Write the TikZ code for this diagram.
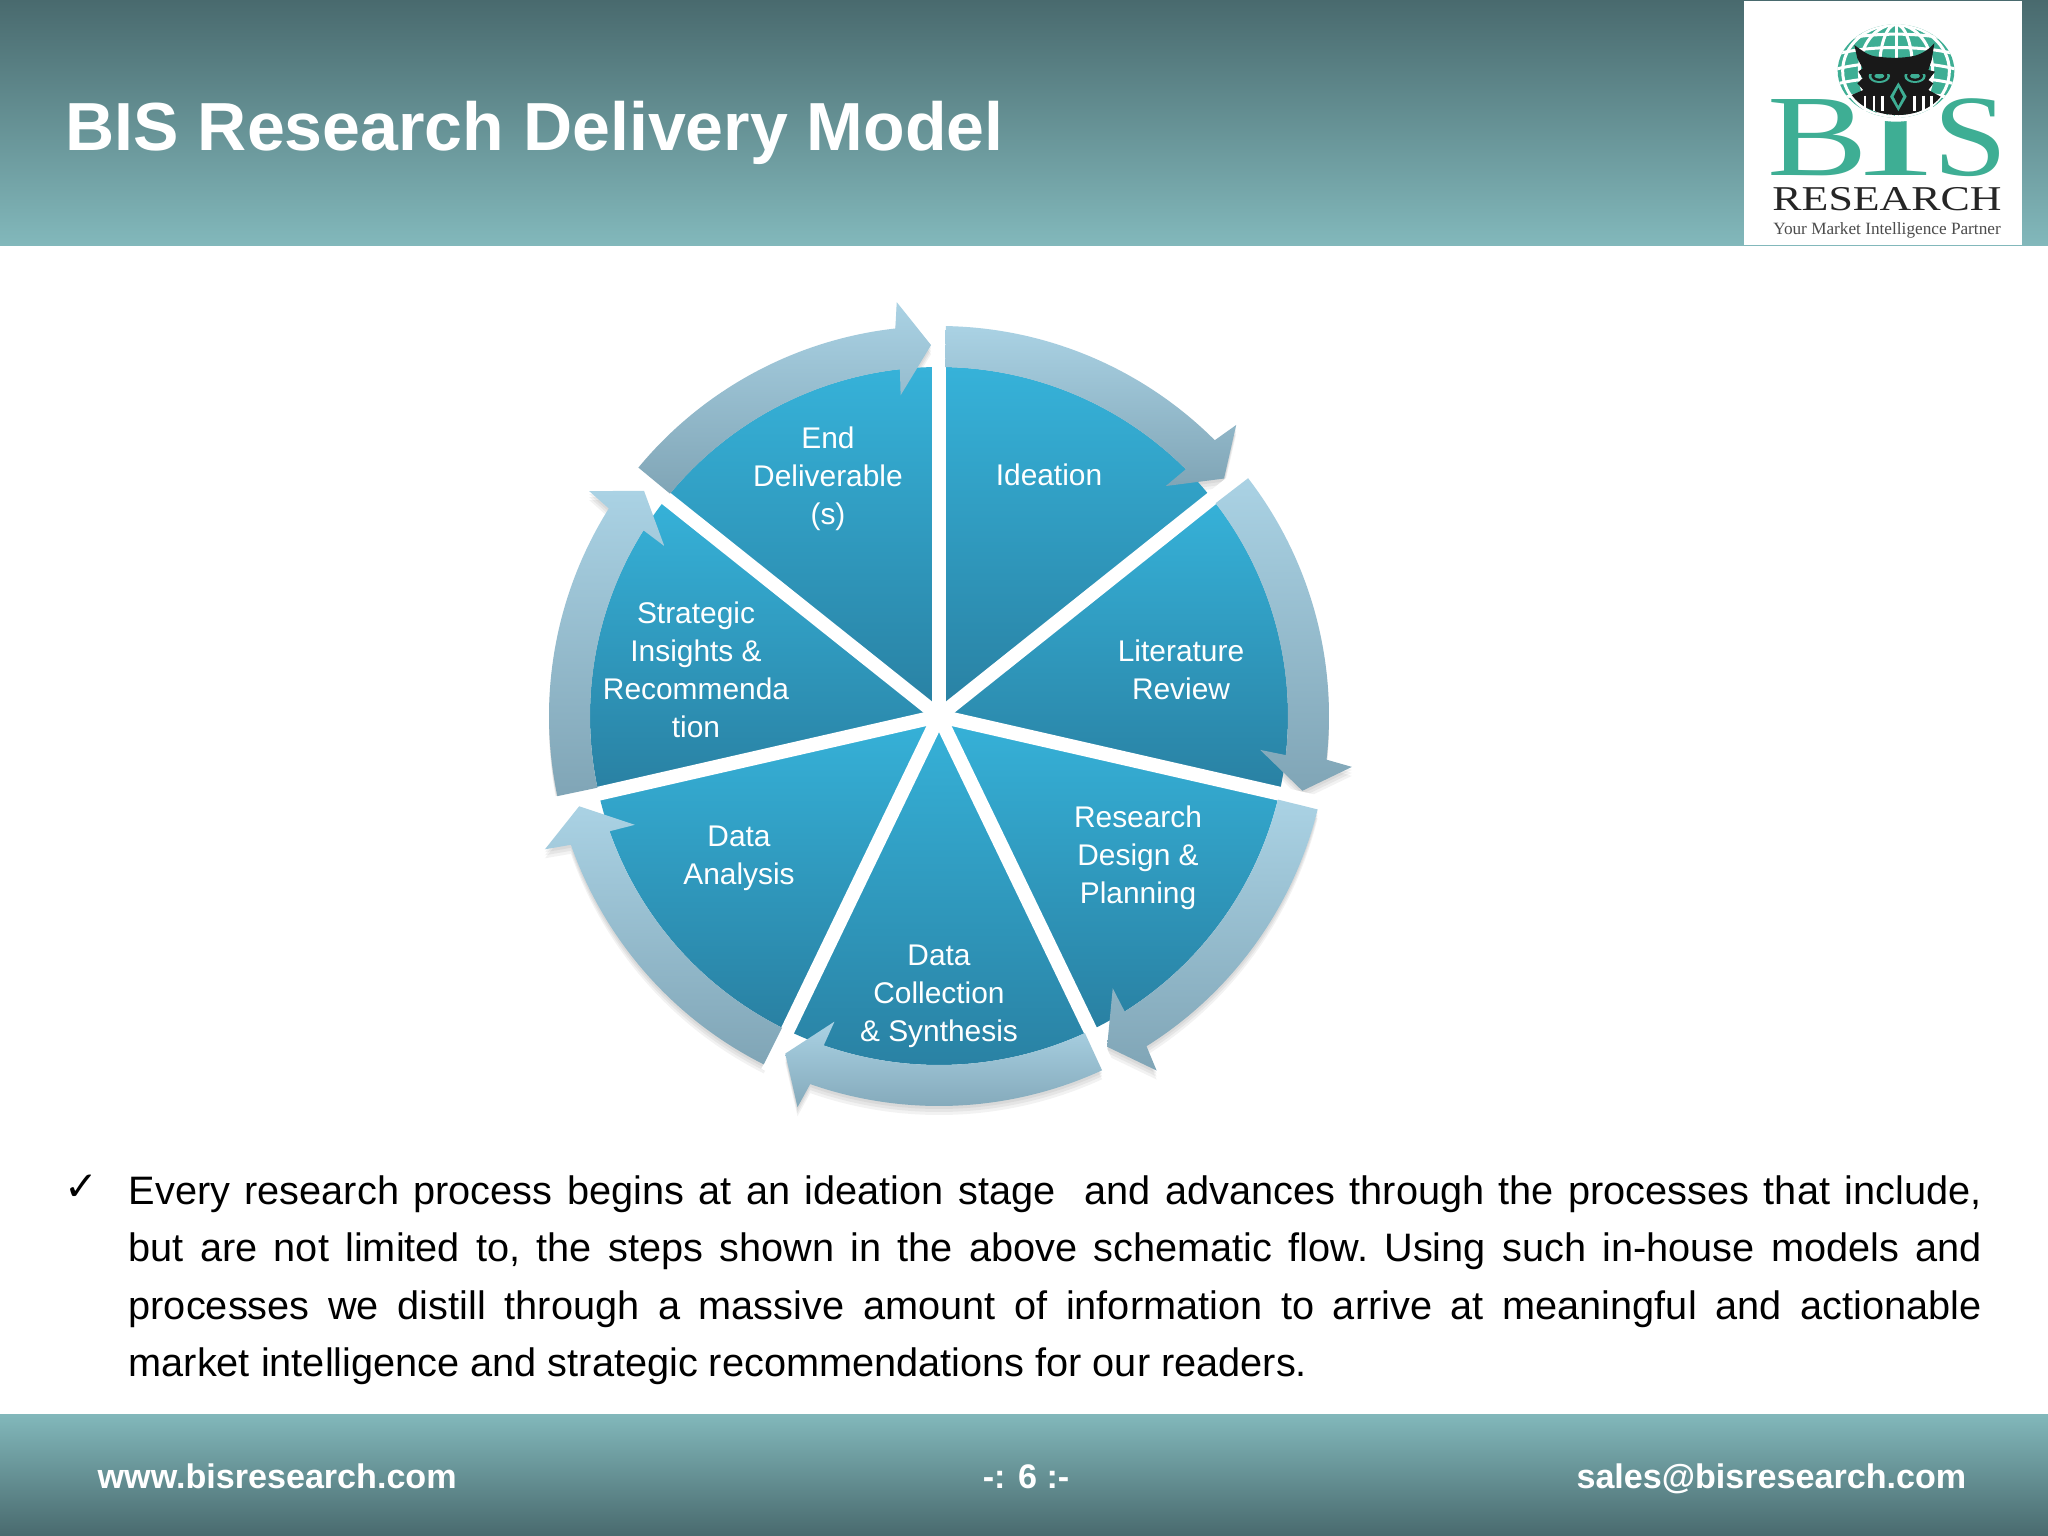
\documentclass[tikz,border=0pt]{standalone}
\usepackage{fontspec}
\setmainfont{Liberation Sans}
\newfontfamily\logofont{Liberation Serif}
\newfontfamily\tickfont{DejaVu Sans}
\usepackage{tikz}
\usetikzlibrary{arrows.meta}

\definecolor{bardark}{RGB}{73,106,110}
\definecolor{barlight}{RGB}{130,184,187}
\definecolor{wheelhi}{RGB}{54,178,217}
\definecolor{wheello}{RGB}{41,128,162}
\definecolor{bandhi}{RGB}{170,210,228}
\definecolor{bandlo}{RGB}{128,165,182}
\definecolor{logogreen}{RGB}{62,174,148}
\newcommand{\fsz}[2]{\fontsize{#1}{#2}\selectfont}
\newcommand{\bandpath}{(\angS:390)
	arc[start angle=\angS,end angle=\angB,radius=390]
	-- (\angO:416) -- (\angT:371) -- (\angI:323) -- (\angB:349)
	arc[start angle=\angB,end angle=\angS,radius=349] -- cycle}
\newcommand{\bandangles}[1]{%
	\pgfmathsetmacro{\angS}{89-#1*360/7}
	\pgfmathsetmacro{\angB}{45-#1*360/7}
	\pgfmathsetmacro{\angO}{44.4-#1*360/7}
	\pgfmathsetmacro{\angI}{45.4-#1*360/7}
	\pgfmathsetmacro{\angT}{39.8-#1*360/7}}

\begin{document}
\begin{tikzpicture}[x=0.01cm,y=-0.01cm]
		\useasboundingbox (0,0) rectangle (2048,1536);
		\fill[white] (0,0) rectangle (2048,1536);

		% bars
		\shade[top color=bardark,bottom color=barlight] (0,0) rectangle (2048,245);
		\shade[top color=barlight,bottom color=bardark] (0,1414) rectangle (2048,1536);
		\fill[white] (1744,1) rectangle (2022,245);

		\begin{scope}[every node/.style={text=white,inner sep=0pt,font=\bfseries\fsz{9.7}{12}}]
			\node[anchor=base west,font=\bfseries\fsz{19.35}{24}] (title) at (65,150) {BIS Research Delivery Model};
			\node[anchor=base west] (site) at (97,1488) {www.bisresearch.com};
			\node[anchor=base] (page) at (1026,1488) {-: 6 :-};
			\node[anchor=base east] (mail) at (1967,1488) {sales@bisresearch.com};
		\end{scope}

		% wheel
		\begin{scope}[shift={(939,716)},y=0.01cm]
			\foreach \k in {0,...,6} {
				\bandangles{\k}
				\foreach \o in {3,6,9}
					\fill[black,opacity=0.05,yshift=-\o*0.01cm] \bandpath;
			}
			\foreach \k in {0,...,6} {
				\pgfmathsetmacro{\angA}{90-\k*360/7}
				\pgfmathsetmacro{\angE}{\angA-360/7}
				\shade[top color=wheelhi,bottom color=wheello] (0,0) -- (\angA:349)
					arc[start angle=\angA,end angle=\angE,radius=349] -- cycle;
			}
			\foreach \k in {0,...,6} {
				\pgfmathsetmacro{\angA}{90-\k*360/7}
				\draw[white,line width=0.14cm] (0,0) -- (\angA:395);
			}
			\fill[white] (0,0) circle [radius=13];
			\foreach \k in {0,...,6} {
				\bandangles{\k}
				\shade[top color=bandhi,bottom color=bandlo] \bandpath;
			}
		\end{scope}

		\begin{scope}[every node/.style={text=white,align=center,inner sep=0pt,font=\fsz{8.5}{10.8}}]
			\node (ideation) at (1049,475) {Ideation};
			\node (literature) at (1181,670) {Literature\\Review};
			\node (design) at (1138,858) {Research\\Design \&\\Planning};
			\node (collection) at (939,996) {Data\\Collection\\\& Synthesis};
			\node (analysis) at (739,858) {Data\\Analysis};
			\node (insights) at (696,670) {Strategic\\Insights \&\\Recommenda\\tion};
			\node (deliverable) at (828,479) {End\\Deliverable\\(s)};
		\end{scope}

		% text under the wheel
		\node (tick) at (81,1188) {\tickfont\fsz{11.5}{12}✓};
		\node[anchor=north west,inner sep=0pt,text width=18.52cm,align=justify,font=\fsz{11.29}{16.3}] (para) at (128,1175) {%
			\frenchspacing
			Every research process begins at an ideation stage\ \ and advances through the processes that include,\linebreak
			but are not limited to, the steps shown in the above schematic flow. Using such in-house models and\linebreak
			processes we distill through a massive amount of information to arrive at meaningful and actionable\linebreak
			market intelligence and strategic recommendations for our readers.};

		% logo
		\begin{scope}[every node/.style={inner sep=0pt,anchor=base,transform shape}]
			\node[text=logogreen,xscale=1.3,font=\logofont\fsz{33}{33}] (letterB) at (1818,175) {B};
			\node[text=logogreen,xscale=2,font=\logofont\fsz{33}{33}] (letterI) at (1896,175) {I};
			\node[text=logogreen,xscale=1.15,font=\logofont\fsz{33}{33}] (letterS) at (1971,175) {S};
			\node[text=black!85,xscale=1.26,font=\logofont\fsz{9.9}{10}] (research) at (1887,210) {RESEARCH};
			\node[text=black!70,font=\logofont\fsz{4.9}{5}] (tagline) at (1887,234) {Your Market Intelligence Partner};
		\end{scope}

		\begin{scope}[shift={(1820,15)},scale=1/3]
			\fill[white] (228,168) ellipse [x radius=187,y radius=152];
			\fill[logogreen] (228,168) ellipse [x radius=175,y radius=140];
			\begin{scope}
				\clip (228,168) ellipse [x radius=175,y radius=140];
				\draw[white,line width=0.03cm] (228,28) -- (228,308);
				\foreach \rx in {50,110,160}
					\draw[white,line width=0.03cm] (228,168) ellipse [x radius=\rx,y radius=140];
				\foreach \yy in {65,105,150,195,240}
					\draw[white,line width=0.03cm] (50,\yy+12) .. controls (150,\yy-14) and (306,\yy-14) .. (406,\yy+12);
			\end{scope}
			% owl
			\fill[black!90] (103,90) .. controls (130,110) and (150,125) .. (175,125)
				.. controls (210,130) and (250,130) .. (285,122)
				.. controls (310,115) and (330,100) .. (343,85)
				-- (335,135) -- (325,165) -- (345,170) -- (325,195) -- (340,205) -- (325,225)
				-- (362,245) .. controls (340,275) and (290,300) .. (235,300)
				.. controls (170,300) and (120,275) .. (95,240)
				-- (130,225) -- (112,205) -- (128,190) -- (115,170) -- (128,160) -- (112,130) -- cycle;
			\foreach \ex in {178,285} {
				\fill[logogreen] (\ex,183) ellipse [x radius=32,y radius=21];
				\fill[black!90] (\ex,183) ellipse [x radius=24,y radius=15];
				\fill[logogreen] (\ex,183) ellipse [x radius=15,y radius=8];
				\fill[black!90] (\ex-36,158) rectangle (\ex+36,176);
			}
			\fill[logogreen] (235,202) -- (260,245) -- (235,288) -- (210,245) -- cycle;
			\fill[black!90] (235,218) -- (249,245) -- (235,272) -- (221,245) -- cycle;
			\foreach \sx in {135,162,188,283,310,335}
				\draw[white,line width=0.025cm] (\sx,242) -- (\sx,288);
		\end{scope}
		\end{tikzpicture}
\end{document}
